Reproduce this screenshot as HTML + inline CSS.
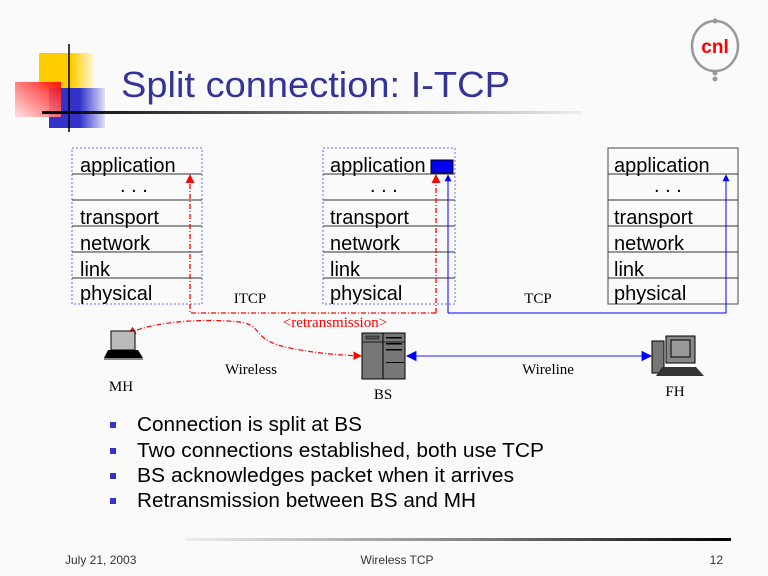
<!DOCTYPE html>
<html><head><meta charset="utf-8"><style>
html,body{margin:0;padding:0;background:#fafafa;}
svg{display:block;}
</style></head><body>
<svg width="768" height="576" viewBox="0 0 768 576" xmlns="http://www.w3.org/2000/svg">
<defs>
<linearGradient id="tl" x1="0" x2="1"><stop offset="0" stop-color="#000"/><stop offset="0.5" stop-color="#777"/><stop offset="1" stop-color="#eee"/></linearGradient>
<linearGradient id="fl" x1="0" x2="1"><stop offset="0" stop-color="#eee"/><stop offset="0.5" stop-color="#888"/><stop offset="1" stop-color="#000"/></linearGradient>
<linearGradient id="yl" x1="0" x2="1"><stop offset="0.6" stop-color="#ffcc00"/><stop offset="1" stop-color="#fff6d0"/></linearGradient>
<linearGradient id="bl" x1="0" x2="1"><stop offset="0.55" stop-color="#3333cc"/><stop offset="1" stop-color="#e0e0f8"/></linearGradient>
<linearGradient id="rl" x1="1" y1="0" x2="0" y2="1"><stop offset="0" stop-color="#ff0000"/><stop offset="1" stop-color="#ffe0e0"/></linearGradient>
<marker id="ar" viewBox="0 0 10 10" refX="9" refY="5" markerWidth="7" markerHeight="7" orient="auto-start-reverse"><path d="M0,0L10,5L0,10z" fill="#ff0000"/></marker>
<marker id="ab" viewBox="0 0 10 10" refX="9" refY="5" markerWidth="7" markerHeight="7" orient="auto-start-reverse"><path d="M0,0L10,5L0,10z" fill="#0000ff"/></marker>
</defs>
<!-- decoration -->
<rect x="39" y="53" width="54" height="36" fill="url(#yl)"/>
<rect x="49" y="88" width="56" height="40" fill="url(#bl)"/>
<rect x="15" y="82" width="46" height="35" fill="url(#rl)" opacity="0.9"/>
<line x1="69" y1="44" x2="69" y2="132" stroke="#000" stroke-width="1.5"/>
<rect x="42" y="111" width="540" height="3" fill="url(#tl)"/>
<text x="121" y="97" font-family="Liberation Sans, sans-serif" font-size="36" fill="#333399" textLength="389" lengthAdjust="spacingAndGlyphs">Split connection: I-TCP</text>
<!-- logo -->
<ellipse cx="715" cy="46" rx="23" ry="25" fill="none" stroke="#999" stroke-width="2.5"/>
<circle cx="715" cy="21" r="2.5" fill="#999"/><circle cx="715" cy="73" r="2.5" fill="#999"/><circle cx="715" cy="79" r="2.5" fill="#999"/>
<text x="715" y="53" text-anchor="middle" font-family="Liberation Sans, sans-serif" font-weight="bold" font-size="19" fill="#ff0000">cnl</text>
<!-- stacks -->
<g font-family="Liberation Sans, sans-serif" font-size="20" fill="#000">
<rect x="72" y="148" width="130" height="156" fill="none" stroke="#6666ff" stroke-dasharray="2,2"/>
<g stroke="#333" stroke-width="1"><line x1="72" y1="174" x2="202" y2="174"/><line x1="72" y1="200" x2="202" y2="200"/><line x1="72" y1="226" x2="202" y2="226"/><line x1="72" y1="252" x2="202" y2="252"/><line x1="72" y1="278" x2="202" y2="278"/></g>
<text x="80" y="172">application</text><text x="120" y="192">. . .</text><text x="80" y="224">transport</text><text x="80" y="250">network</text><text x="80" y="276">link</text><text x="80" y="300">physical</text>

<rect x="323" y="148" width="132" height="156" fill="none" stroke="#6666ff" stroke-dasharray="2,2"/>
<g stroke="#333" stroke-width="1"><line x1="323" y1="174" x2="455" y2="174"/><line x1="323" y1="200" x2="455" y2="200"/><line x1="323" y1="226" x2="455" y2="226"/><line x1="323" y1="252" x2="455" y2="252"/><line x1="323" y1="278" x2="455" y2="278"/></g>
<text x="330" y="172">application</text><text x="370" y="192">. . .</text><text x="330" y="224">transport</text><text x="330" y="250">network</text><text x="330" y="276">link</text><text x="330" y="300">physical</text>
<rect x="431" y="160" width="22" height="13" fill="#0000ee" stroke="#000"/>

<rect x="608" y="148" width="130" height="156" fill="none" stroke="#666" stroke-width="1.2"/>
<g stroke="#333" stroke-width="1"><line x1="608" y1="174" x2="738" y2="174"/><line x1="608" y1="200" x2="738" y2="200"/><line x1="608" y1="226" x2="738" y2="226"/><line x1="608" y1="252" x2="738" y2="252"/><line x1="608" y1="278" x2="738" y2="278"/></g>
<text x="614" y="172">application</text><text x="654" y="192">. . .</text><text x="614" y="224">transport</text><text x="614" y="250">network</text><text x="614" y="276">link</text><text x="614" y="300">physical</text>
</g>
<!-- connectors -->
<path d="M436,313 L190,313 L190,175" fill="none" stroke="#ff0000" stroke-width="1.3" stroke-dasharray="5,2,1,2" marker-end="url(#ar)"/>
<path d="M436,313 L436,175" fill="none" stroke="#ff0000" stroke-width="1.3" stroke-dasharray="5,2,1,2" marker-end="url(#ar)"/>
<path d="M448,313 L448,175" fill="none" stroke="#0000ff" stroke-width="1" marker-end="url(#ab)"/>
<path d="M448,313 L726,313 L726,175" fill="none" stroke="#0000ff" stroke-width="1" marker-end="url(#ab)"/>
<path d="M128,334 C150,322 200,318 240,322 C265,326 250,340 290,348 C320,354 340,355 361,356" fill="none" stroke="#ff0000" stroke-width="1.2" stroke-dasharray="5,2,1,2" marker-start="url(#ar)" marker-end="url(#ar)"/>
<line x1="407" y1="356" x2="651" y2="356" stroke="#6666ff" stroke-width="1.5" marker-start="url(#ab)" marker-end="url(#ab)"/>
<g font-family="Liberation Serif, serif" font-size="15" fill="#000">
<text x="250" y="303" text-anchor="middle">ITCP</text>
<text x="538" y="303" text-anchor="middle">TCP</text>
<text x="335" y="327" text-anchor="middle" fill="#ff0000">&lt;retransmission&gt;</text>
<text x="251" y="374" text-anchor="middle">Wireless</text>
<text x="548" y="374" text-anchor="middle">Wireline</text>
<text x="121" y="391" text-anchor="middle">MH</text>
<text x="383" y="399" text-anchor="middle">BS</text>
<text x="675" y="396" text-anchor="middle">FH</text>
</g>
<!-- laptop -->
<rect x="111" y="331" width="24" height="19" fill="#bbb" stroke="#000"/>
<path d="M108,350 L138,350 L143,358 L104,358z" fill="#000"/>
<rect x="104" y="358" width="39" height="2" fill="#888"/>
<!-- server -->
<rect x="362" y="333" width="43" height="46" fill="#777" stroke="#000"/>
<line x1="383" y1="333" x2="383" y2="379" stroke="#000"/>
<line x1="362" y1="342" x2="405" y2="342" stroke="#000" stroke-width="0.8"/>
<rect x="366" y="336" width="13" height="3" fill="#555" stroke="#000" stroke-width="0.5"/>
<g fill="#000"><rect x="386" y="337" width="16" height="1.5"/><rect x="386" y="343" width="16" height="1.5"/><rect x="386" y="349" width="16" height="1.5"/><rect x="386" y="362" width="18" height="1"/></g>
<!-- desktop -->
<rect x="652" y="341" width="12" height="32" fill="#777" stroke="#000"/>
<rect x="666" y="336" width="29" height="27" fill="#888" stroke="#000"/>
<rect x="671" y="340" width="19" height="17" fill="#999" stroke="#000"/>
<path d="M662,367 L696,367 L704,376 L656,376z" fill="#333"/>
<!-- bullets -->
<g font-family="Liberation Sans, sans-serif" font-size="20" fill="#000">
<rect x="110" y="422" width="6" height="6" fill="#3333cc"/><text x="137" y="431" textLength="225" lengthAdjust="spacingAndGlyphs">Connection is split at BS</text>
<rect x="110" y="448" width="6" height="6" fill="#3333cc"/><text x="137" y="457" textLength="407" lengthAdjust="spacingAndGlyphs">Two connections established, both use TCP</text>
<rect x="110" y="473" width="6" height="6" fill="#3333cc"/><text x="137" y="482" textLength="377" lengthAdjust="spacingAndGlyphs">BS acknowledges packet when it arrives</text>
<rect x="110" y="498" width="6" height="6" fill="#3333cc"/><text x="137" y="507" textLength="339" lengthAdjust="spacingAndGlyphs">Retransmission between BS and MH</text>
</g>
<!-- footer -->
<rect x="185" y="538" width="546" height="3" fill="url(#fl)"/>
<g font-family="Liberation Sans, sans-serif" font-size="12" fill="#333">
<text x="65" y="564">July 21, 2003</text>
<text x="397" y="564" text-anchor="middle">Wireless TCP</text>
<text x="723" y="564" text-anchor="end">12</text>
</g>
</svg>
</body></html>
